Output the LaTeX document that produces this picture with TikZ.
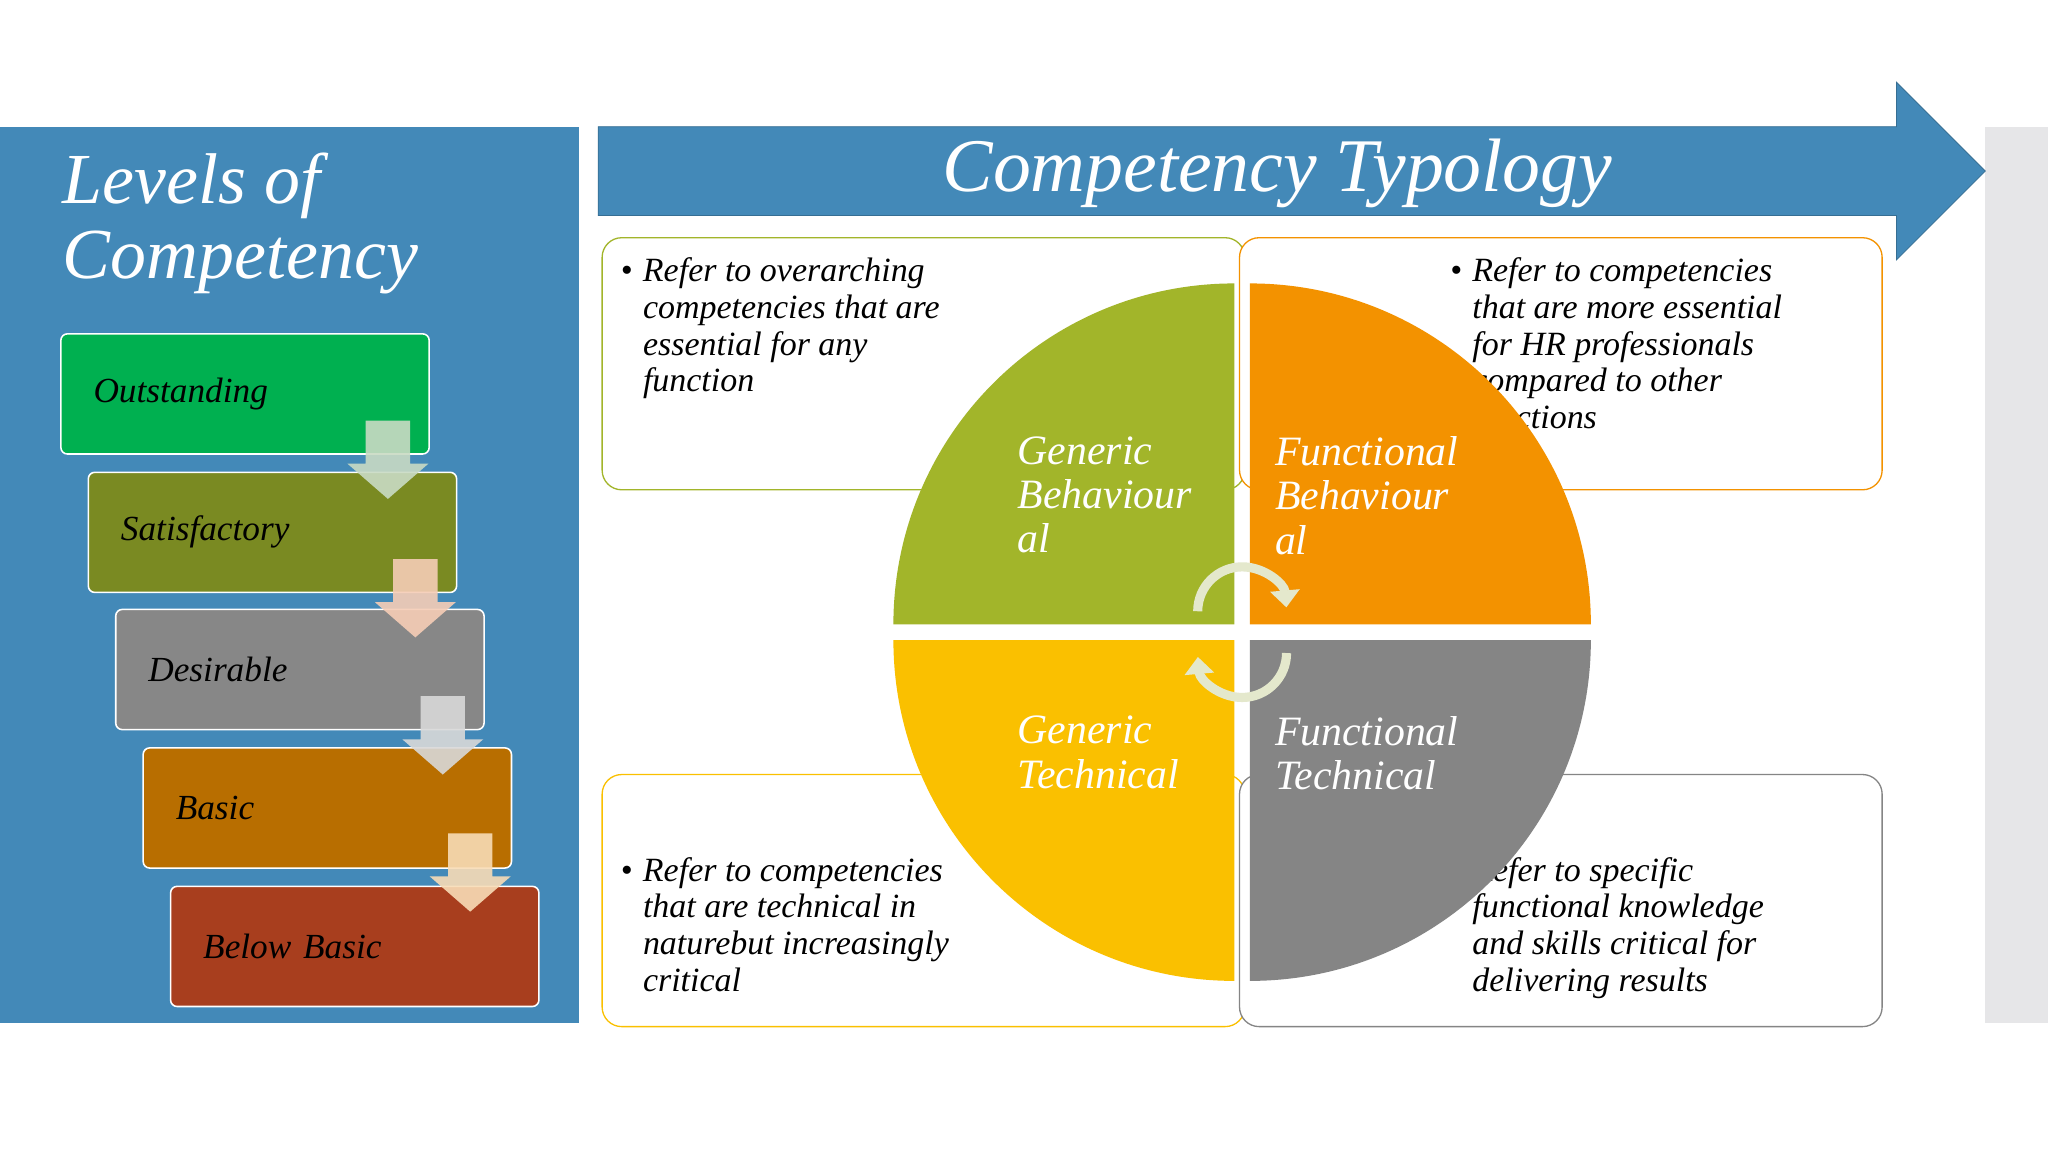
\documentclass[tikz,border=0pt]{standalone}
\usepackage{fontspec}
\setmainfont{Liberation Serif}
\usetikzlibrary{arrows.meta}
\definecolor{panel}{HTML}{4389B8}
\definecolor{strip}{HTML}{E6E6E8}
\definecolor{cGreen}{HTML}{00B050}
\definecolor{cOlive}{HTML}{7A8A22}
\definecolor{cGray}{HTML}{878787}
\definecolor{cBasic}{HTML}{B86E00}
\definecolor{cBelow}{HTML}{A83E1E}
\definecolor{qGreen}{HTML}{A2B52A}
\definecolor{qOrange}{HTML}{F39200}
\definecolor{qYellow}{HTML}{FAC000}
\definecolor{qGray}{HTML}{858585}
\definecolor{cream}{HTML}{E4E8CC}
\tikzset{
 lvl/.style={draw=white,line width=1.2pt,rounded corners=5,minimum width=282,minimum height=92,anchor=north west,
   font=\itshape\fontsize{27}{30}\selectfont,text width=260,align=left,inner sep=0},
 tbox/.style={line width=1pt,rounded corners=15,fill=white},
 btxt/.style={anchor=north west,align=left,inner sep=0,font=\itshape\fontsize{26}{28}\selectfont},
 qtxt/.style={anchor=north west,align=left,inner sep=0,text=white,font=\itshape\fontsize{32}{34}\selectfont},
 carrow/.style={line width=7pt,draw=cream,-{Triangle[width=22pt,length=13pt]}},
}
\begin{document}
\begin{tikzpicture}[x=1pt,y=-1pt]
\useasboundingbox (0,0) rectangle (1568,882);
\fill[white] (0,0) rectangle (1568,882);
% left panel and strip
\fill[panel] (0,97) rectangle (443,783);
\fill[strip] (1520,97) rectangle (1568,783);
\node[anchor=north west,inner sep=0,align=left,text=white,font=\itshape\fontsize{55}{57}\selectfont] (lt) at (48,117) {Levels of\\Competency};
% level boxes
\node[lvl,fill=cGreen] (l1) at (46,255) {\hspace*{14pt}Outstanding};
\node[lvl,fill=cOlive] (l2) at (67,361) {\hspace*{14pt}Satisfactory};
\node[lvl,fill=cGray] (l3) at (88,466) {\hspace*{14pt}Desirable};
\node[lvl,fill=cBasic] (l4) at (109,572) {\hspace*{14pt}Basic};
\node[lvl,fill=cBelow] (l5) at (130,678) {\hspace*{14pt}Below Basic};
\foreach \cx/\tp/\col in {297/322/C9DBC4,318/428/F6CDB6,339/533/D9D9D9,360/638/F8DCB6}{
 \definecolor{tmp}{HTML}{\col}
 \fill[tmp,fill opacity=0.9] (\cx-17,\tp) -- (\cx+17,\tp) -- (\cx+17,\tp+33) -- (\cx+31,\tp+33) -- (\cx,\tp+60) -- (\cx-31,\tp+33) -- (\cx-17,\tp+33) -- cycle;
}
% big arrow
\fill[panel] (458,97) -- (1452,97) -- (1452,63) -- (1520,131) -- (1452,199) -- (1452,165) -- (458,165) -- cycle;
\draw[panel!80!black,line width=0.6pt] (458,97) -- (1452,97) -- (1452,63) -- (1520,131) -- (1452,199) -- (1452,165) -- (458,165) -- cycle;
\node[text=white,font=\itshape\fontsize{58}{60}\selectfont,inner sep=0] (title) at (978,133) {Competency Typology};
% text boxes
\draw[tbox,draw=qGreen] (461,182) rectangle (953,375);
\draw[tbox,draw=qOrange] (949,182) rectangle (1441,375);
\draw[tbox,draw=qYellow] (461,593) rectangle (953,786);
\draw[tbox,draw=qGray] (949,593) rectangle (1441,786);
\node[btxt] (b1) at (475,196) {•\hspace{8pt}\begin{tabular}[t]{@{}l@{}}Refer to overarching\\competencies that are\\essential for any\\function\end{tabular}};
\node[btxt] (b2) at (1110,196) {•\hspace{8pt}\begin{tabular}[t]{@{}l@{}}Refer to competencies\\that are more essential\\for HR professionals\\compared to other\\functions\end{tabular}};
\node[btxt] (b3) at (475,655) {•\hspace{8pt}\begin{tabular}[t]{@{}l@{}}Refer to competencies\\that are technical in\\naturebut increasingly\\critical\end{tabular}};
\node[btxt] (b4) at (1110,655) {•\hspace{8pt}\begin{tabular}[t]{@{}l@{}}Refer to specific\\functional knowledge\\and skills critical for\\delivering results\end{tabular}};
% quadrants
\fill[qGreen] (945,478) -- (684,478) arc[start angle=180,end angle=270,radius=261] -- cycle;
\fill[qOrange] (957,478) -- (1218,478) arc[start angle=0,end angle=-90,radius=261] -- cycle;
\fill[qYellow] (945,490) -- (684,490) arc[start angle=180,end angle=90,radius=261] -- cycle;
\fill[qGray] (957,490) -- (1218,490) arc[start angle=0,end angle=90,radius=261] -- cycle;
\node[qtxt] (q1) at (779,334) {Generic\\Behaviour\\al};
\node[qtxt] (q2) at (976,334) {Functional\\Behaviour\\al};
\node[qtxt] (q3) at (779,548) {Generic\\Technical};
\node[qtxt] (q4) at (976,548) {Functional\\Technical};
% circular arrows
\coordinate (ca) at (917,468);
\coordinate (cb) at (985,500);
\draw[carrow] (ca) arc[start angle=180,end angle=355,radius=34];
\draw[carrow] (cb) arc[start angle=0,end angle=175,radius=34];
\end{tikzpicture}
\end{document}
